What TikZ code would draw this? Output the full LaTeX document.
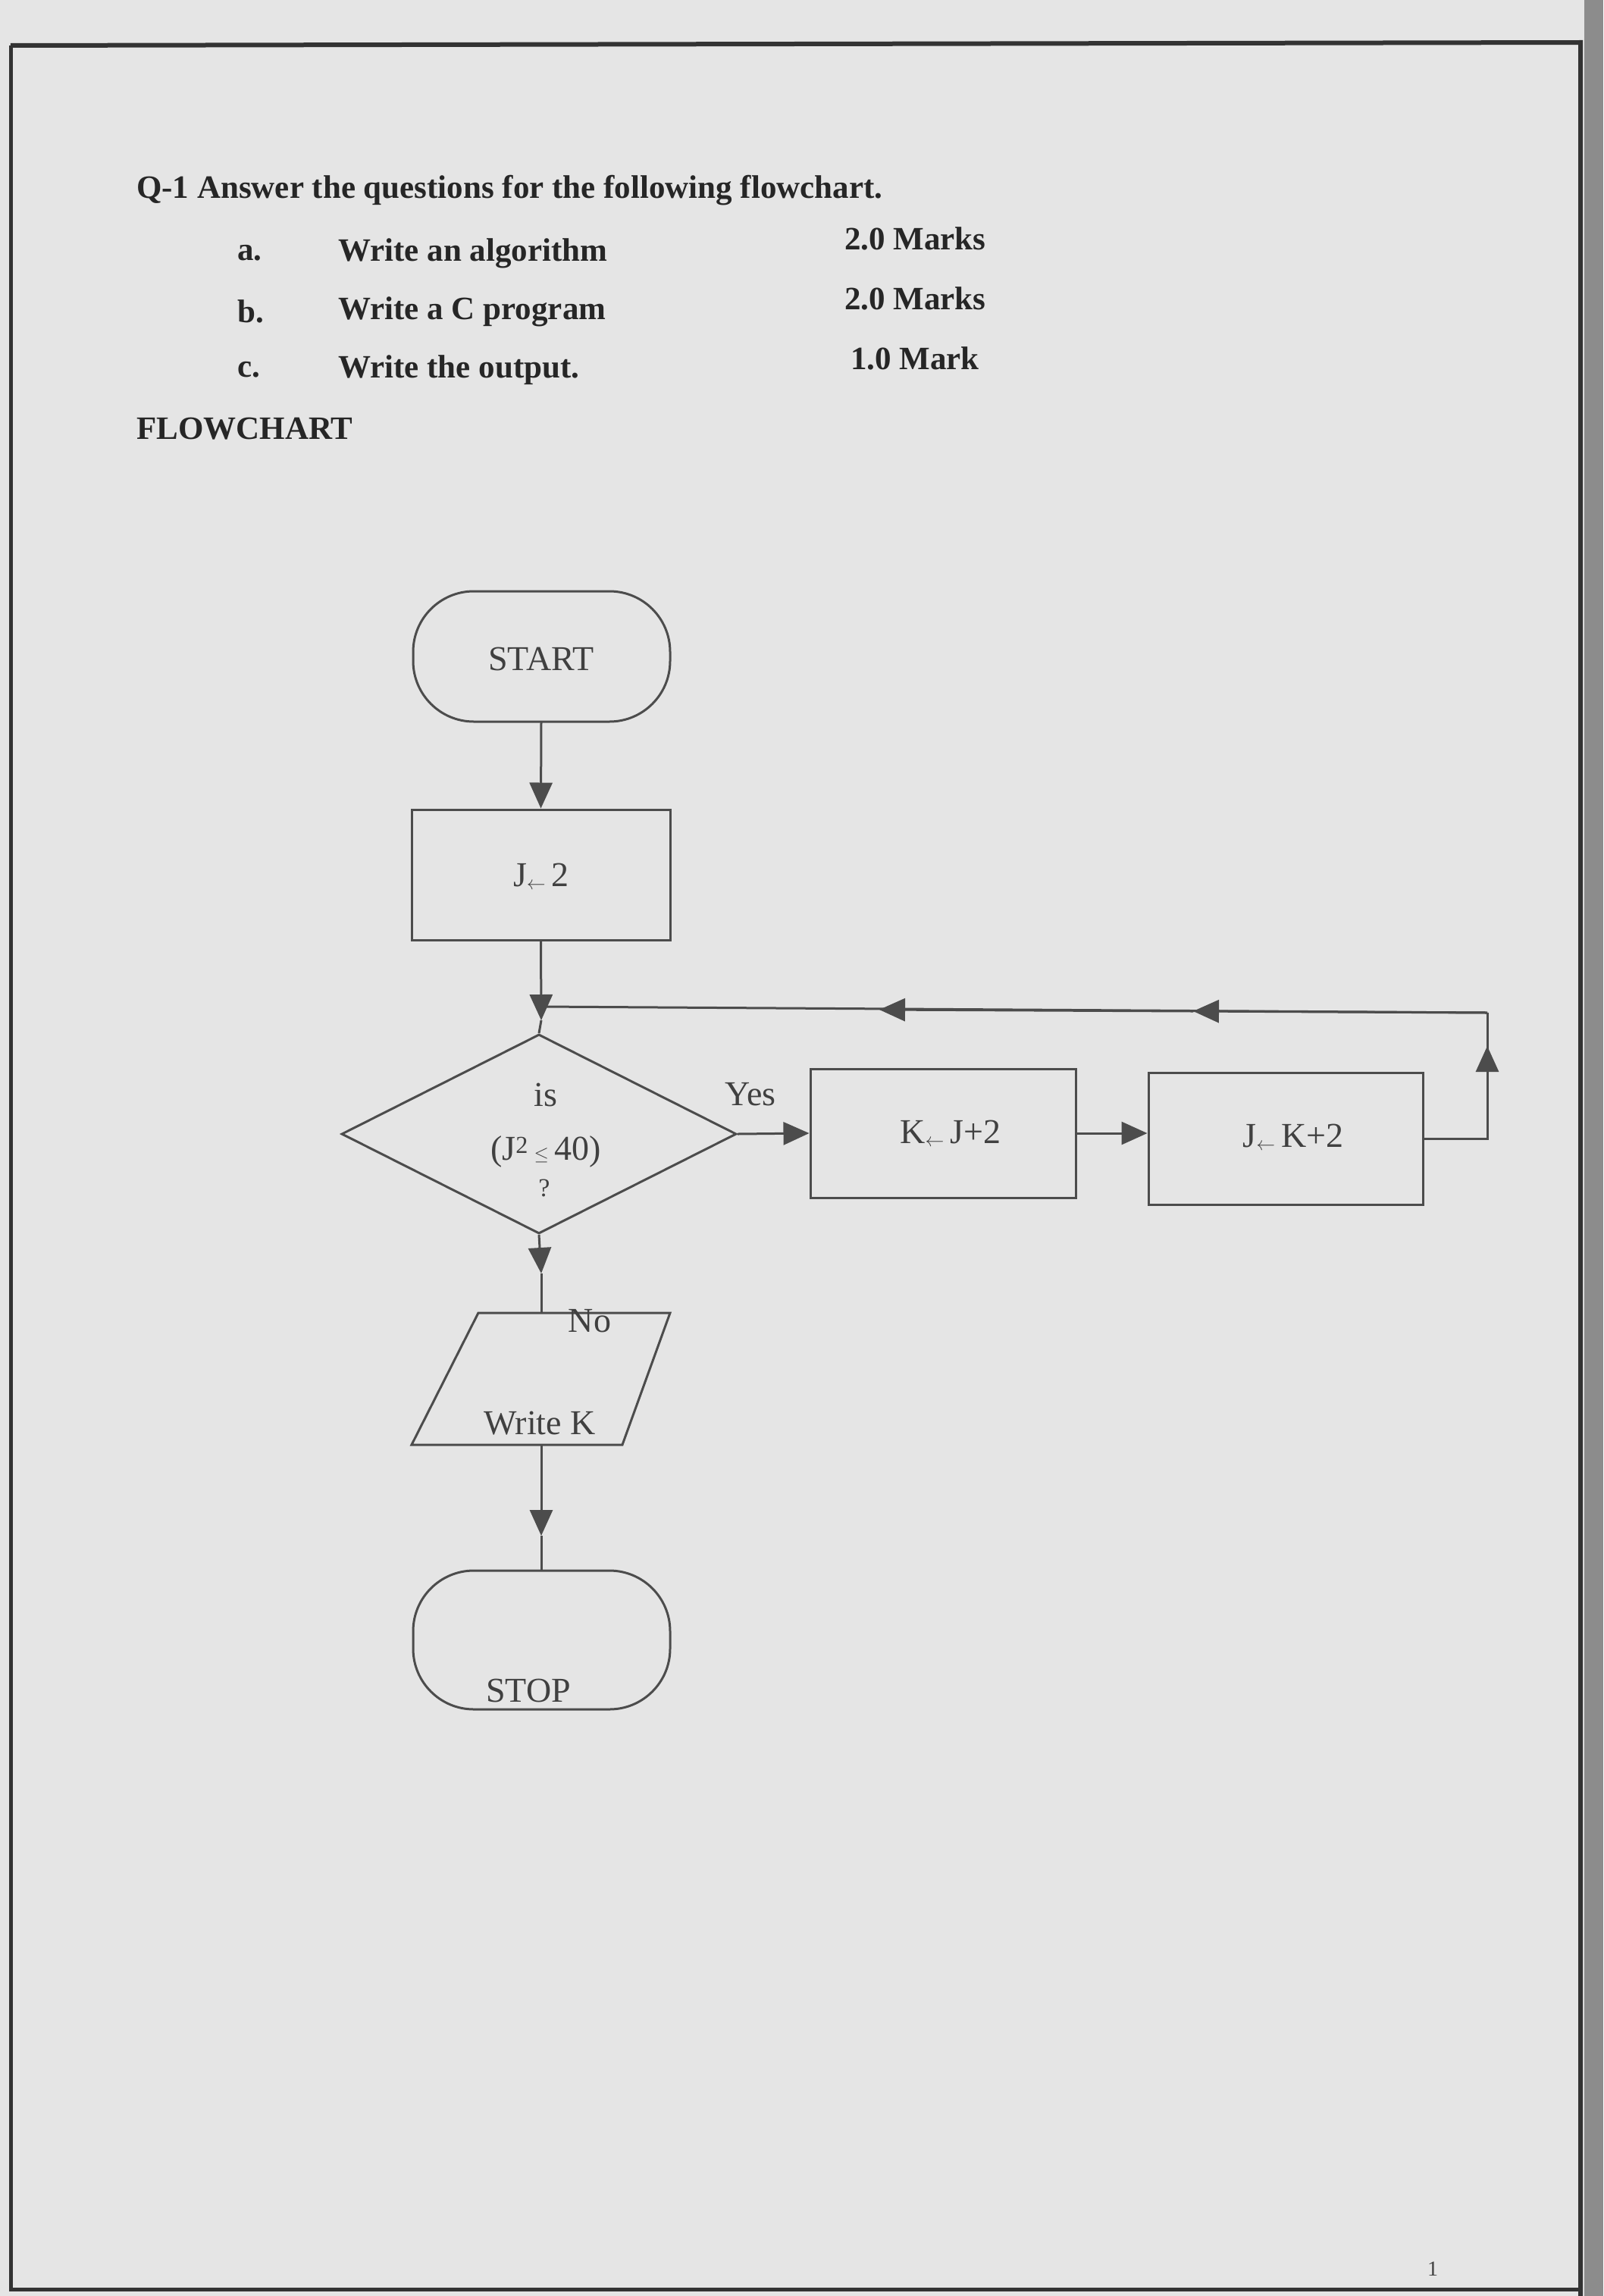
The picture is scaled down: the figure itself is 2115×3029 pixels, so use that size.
\documentclass[tikz,border=0pt]{standalone}
\usepackage{fontspec}
\setmainfont{Liberation Serif}
\usetikzlibrary{arrows.meta,shapes.geometric}
\begin{document}
\begin{tikzpicture}[x=1pt,y=-1pt,
  ln/.style={draw=black!70,line width=3pt},
  arr/.style={ln,-{Triangle[length=34pt,width=30pt]}},
  head/.style={font=\fontsize{43}{50}\selectfont\bfseries,text=black!85,anchor=west,inner sep=0},
  fc/.style={font=\fontsize{46}{54}\selectfont,text=black!75,inner sep=0}]
\fill[black!10] (0,0) rectangle (2115,3029);
\useasboundingbox (0,0) rectangle (2115,3029);
\fill[black!45] (2090,0) rectangle (2115,3029);
\draw[black!80,line width=6pt] (14,60) -- (2085,56) -- (2085,3029);
\draw[black!80,line width=5pt] (14,60) -- (14,3020) -- (2085,3020);
\node[head] (q) at (180,251) {Q-1 Answer the questions for the following flowchart.};
\node[head] (a) at (313,334) {a.};
\node[head] (at) at (446,334) {Write an algorithm};
\node[head] (am) at (1114,315) {2.0 Marks};
\node[head] (b) at (313,411) {b.};
\node[head] (bt) at (446,411) {Write a C program};
\node[head] (bm) at (1114,394) {2.0 Marks};
\node[head] (c) at (313,488) {c.};
\node[head] (ct) at (446,488) {Write the output.};
\node[head] (cm) at (1122,473) {1.0 Mark};
\node[head] (fl) at (180,566) {FLOWCHART};
% shapes
\draw[ln,rounded corners=80pt] (545,780) rectangle (884,952);
\node (st) at (714.5,866) [minimum width=339pt,minimum height=172pt,inner sep=0]{};
\node[fc] (stt) at (714,869) {START};
\node[ln,minimum width=341pt,minimum height=172pt,inner sep=0] (j) at (713.5,1154) {};
\node[fc] at (714,1156) {J$_{\leftarrow}$\,2};
\node[ln,diamond,minimum width=521pt,minimum height=263pt,inner sep=0,aspect=2] (d) at (711,1496) {};
\node[fc] at (720,1444) {is};
\node[fc] at (720,1519) {(J\textsuperscript{2}\,$\leq$\,40)};
\node[fc,font=\fontsize{34}{40}\selectfont] at (718,1567) {?};
\node[ln,minimum width=350pt,minimum height=170pt,inner sep=0] (k) at (1244,1495) {};
\node[fc] at (1254,1495) {K$_{\leftarrow}$\,J+2};
\node[ln,minimum width=362pt,minimum height=174pt,inner sep=0] (jk) at (1696,1502) {};
\node[fc] at (1706,1500) {J$_{\leftarrow}$\,K+2};
\draw[ln] (631,1732) -- (884,1732) -- (821,1906) -- (543,1906) -- cycle;
\node (p) at (713,1819) [minimum width=280pt,minimum height=174pt,inner sep=0]{};
\node[fc] at (712,1878) {Write K};
\draw[ln,rounded corners=80pt] (545,2072) rectangle (884,2255);
\node (sp) at (714.5,2163.5) [minimum width=339pt,minimum height=183pt,inner sep=0]{};
\node[fc] at (697,2230) {STOP};
\node[fc] at (990,1444) {Yes};
\node[fc] at (778,1743) {No};
\node[fc,font=\fontsize{28}{32}\selectfont] at (1890,2993) {1};
% connectors
\coordinate (jn) at (714,1346);
\coordinate (r2) at (1962,1502);
\coordinate (r3) at (1962,1336);
\coordinate (ru) at (1962,1380);
\coordinate (l1) at (1160,1332);
\coordinate (l2) at (1574,1334);
\coordinate (dn) at (714,1680);
\coordinate (pn) at (714,2026);
\draw[arr] (714,952) -- (j.north);
\draw[arr] (j.south) -- (jn);
\draw[ln] (jn) -- (d.north);
\draw[arr] (d.east) -- (k.west);
\draw[arr] (k.east) -- (k.east -| jk.west);
\draw[ln] (jk.east) -- (r2) -- (r3);
\draw[arr] (r2) -- (ru);
\draw[ln] (r3) -- (714,1328);
\draw[arr] (r3) -- (l2);
\draw[arr] (l2) -- (l1);
\draw[arr] (d.south) -- (dn);
\draw[ln] (dn) -- (714,1732);
\draw[arr] (714,1906) -- (pn);
\draw[ln] (pn) -- (714,2072);
\end{tikzpicture}
\end{document}
